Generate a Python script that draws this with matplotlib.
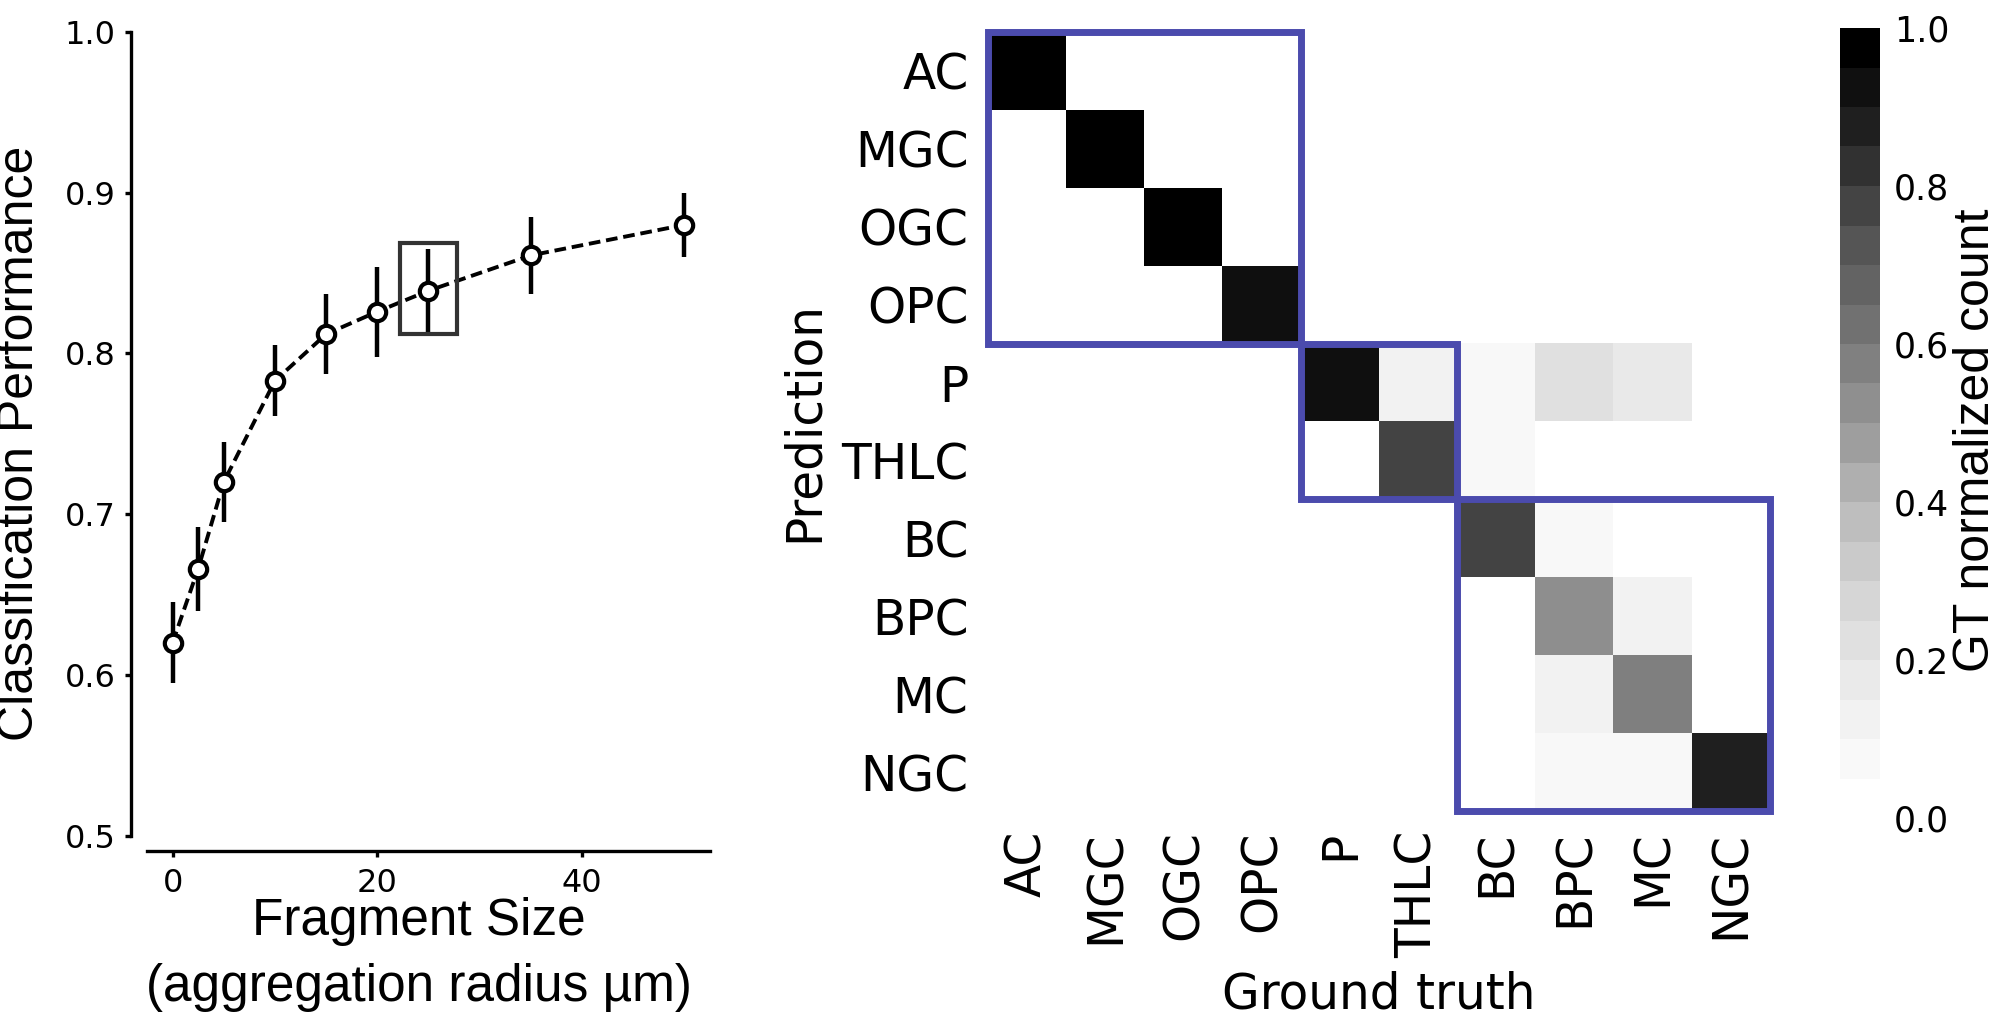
import matplotlib
matplotlib.use("Agg")
import matplotlib.pyplot as plt
import numpy as np
from matplotlib.patches import Rectangle

# left panel: classification performance vs fragment size
frag_size = [0, 2.5, 5, 10, 15, 20, 25, 35, 50]
perf = [0.620, 0.666, 0.720, 0.783, 0.812, 0.826, 0.839, 0.861, 0.880]
perf_err = [0.025, 0.026, 0.025, 0.022, 0.025, 0.028, 0.026, 0.024, 0.020]
highlight_x = 25
highlight_y = (0.812, 0.869)

# right panel: confusion matrix (rows = prediction, cols = ground truth)
cell_types = ["AC", "MGC", "OGC", "OPC", "P", "THLC", "BC", "BPC", "MC", "NGC"]
conf = [
    [0.98, 0,    0,    0,    0,    0,    0,    0,    0,    0],
    [0,    0.98, 0,    0,    0,    0,    0,    0,    0,    0],
    [0,    0,    0.98, 0,    0,    0,    0,    0,    0,    0],
    [0,    0,    0,    0.92, 0,    0,    0,    0,    0,    0],
    [0,    0,    0,    0,    0.93, 0.12, 0.07, 0.22, 0.17, 0],
    [0,    0,    0,    0,    0,    0.77, 0.07, 0,    0,    0],
    [0,    0,    0,    0,    0,    0,    0.78, 0.07, 0,    0],
    [0,    0,    0,    0,    0,    0,    0,    0.52, 0.12, 0],
    [0,    0,    0,    0,    0,    0,    0,    0.12, 0.57, 0],
    [0,    0,    0,    0,    0,    0,    0,    0.07, 0.07, 0.87],
]
# groups of classes outlined in blue: (first index, size)
groups = [(0, 4), (4, 2), (6, 4)]

W, H = 1999, 1015
fig = plt.figure(figsize=(W / 100, H / 100), dpi=100)


def px_box(l, t, r, b):
    return [l / W, 1 - b / H, (r - l) / W, (b - t) / H]


# ---- left panel ----
ax1 = fig.add_axes(px_box(147, 32, 710, 835.5))
ax1.errorbar(frag_size, perf, yerr=perf_err, fmt="none", ecolor="black",
             elinewidth=3.2, capsize=0, zorder=2)
ax1.plot(frag_size, perf, color="black", lw=2.8, dashes=(3, 1.5), marker="o",
         ms=12.5, mfc="white", mec="black", mew=3, zorder=3)
ax1.add_patch(Rectangle((highlight_x - 2.8, highlight_y[0]), 5.6,
                        highlight_y[1] - highlight_y[0], fill=False,
                        ec="#333333", lw=3, zorder=4))
ax1.set_xlim(-2.5, 52.5)
ax1.set_ylim(0.5, 1.0)
ax1.set_xticks([0, 20, 40])
ax1.set_yticks([0.5, 0.6, 0.7, 0.8, 0.9, 1.0])
ax1.set_yticklabels(["%.1f" % v for v in [0.5, 0.6, 0.7, 0.8, 0.9, 1.0]])
for s in ["top", "right"]:
    ax1.spines[s].set_visible(False)
for s in ["left", "bottom"]:
    ax1.spines[s].set_position(("outward", 11.2))
    ax1.spines[s].set_linewidth(2.4)
ax1.spines["left"].set_bounds(0.5, 1.0)
ax1.tick_params(axis="both", labelsize=23, width=2.4, length=4.5)
ax1.tick_params(axis="y", pad=7)
ax1.tick_params(axis="x", pad=8)
ax1.set_ylabel("Classification Performance", fontsize=36,
               family="Liberation Sans", va="center")
ax1.yaxis.set_label_coords((20 - 147) / 563, (835.5 - 443) / 803.5)
ax1.set_xlabel("Fragment Size\n(aggregation radius µm)", fontsize=37,
               family="Liberation Sans", va="top", linespacing=1.45)
ax1.xaxis.set_label_coords((419 - 147) / 563, (835.5 - 897) / 803.5)

# ---- right panel ----
cmap = plt.get_cmap("Greys", 20)
ax2 = fig.add_axes(px_box(988, 32, 1770, 811))
im = ax2.imshow(np.array(conf), cmap=cmap, vmin=0, vmax=1, aspect="auto",
                interpolation="nearest")
for start, size in groups:
    ax2.add_patch(Rectangle((start - 0.5, start - 0.5), size, size,
                            fill=False, ec="#4b4bad", lw=5, zorder=5,
                            clip_on=False))
ax2.set_xticks(range(len(cell_types)))
ax2.set_yticks(range(len(cell_types)))
ax2.set_xticklabels(cell_types, rotation=90)
ax2.set_yticklabels(cell_types)
ax2.tick_params(length=0, labelsize=35, pad=14)
for s in ax2.spines.values():
    s.set_visible(False)
ax2.set_ylabel("Prediction", fontsize=35, labelpad=10)
ax2.set_xlabel("Ground truth", fontsize=35, labelpad=9)

cax = fig.add_axes(px_box(1840, 28, 1880, 818))
cb = fig.colorbar(im, cax=cax, ticks=[0, 0.2, 0.4, 0.6, 0.8, 1.0])
cb.outline.set_visible(False)
cb.ax.set_yticklabels(["%.1f" % v for v in [0, 0.2, 0.4, 0.6, 0.8, 1.0]])
cb.ax.tick_params(length=0, labelsize=25, pad=10)
cb.set_label("GT normalized count", fontsize=36, family="Liberation Sans",
             va="center")
cb.ax.yaxis.set_label_coords((1976 - 1840) / 40, (818 - 440) / 790)

fig.savefig("out.png", dpi=100)
